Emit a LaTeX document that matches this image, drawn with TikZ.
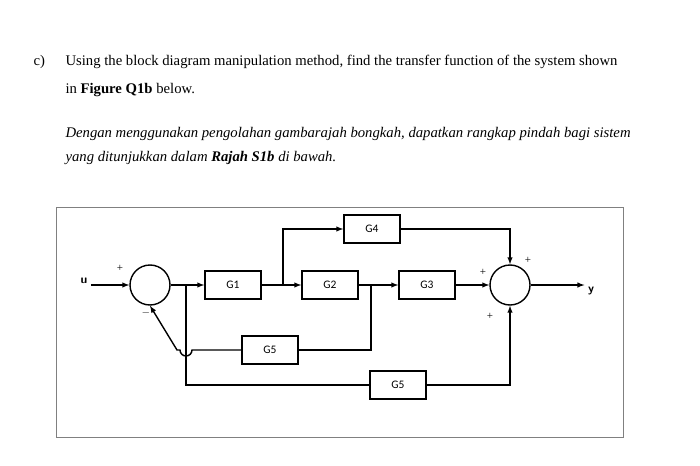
\documentclass[tikz,border=0pt]{standalone}
\usepackage{fontspec}
\setmainfont{Liberation Serif}
\newfontfamily\blockfont{Carlito}
\usetikzlibrary{positioning}

\begin{document}
\begin{tikzpicture}[x=1pt,y=-1pt,>=latex]
        % Setup the styles for the blocks
        \tikzset{block/.style={draw, line width=1.4pt, minimum width=56pt, minimum height=28pt,
                               inner sep=0pt, font=\blockfont\fontsize{11.5}{13}\selectfont},
                 junction/.style={draw, line width=1.4pt, circle, minimum size=40pt, inner sep=0pt},
                 sign/.style={font=\fontsize{11}{11}\selectfont, inner sep=0pt},
                 question/.style={anchor=base west, font=\fontsize{14.7}{16}\selectfont},
                 line/.style={line width=1.4pt}}
        \useasboundingbox (0,0) rectangle (700,465);

        % Question text
        \node[question] at (30,66) (qc) {c)};
        \node[question] at (62,66) (q1)
            {Using the block diagram manipulation method, find the transfer function of the system shown};
        \node[question] at (62,94) (q2) {in \textbf{Figure Q1b} below.};
        \node[question, font=\fontsize{14.7}{16}\selectfont\itshape] at (62,138) (q3)
            {Dengan menggunakan pengolahan gambarajah bongkah, dapatkan rangkap pindah bagi sistem};
        \node[question, font=\fontsize{14.7}{16}\selectfont\itshape] at (62,161) (q4)
            {yang ditunjukkan dalam \textbf{Rajah S1b} di bawah.};

        % Frame
        \draw[gray, line width=1pt] (56,207) rectangle (623,437);

        % Draw the blocks
        \node[junction] at (150,285) (sum1) {};
        \node[junction] at (510,285) (sum2) {};
        \node[block] at (233,285) (g1) {G1};
        \node[block] at (330,285) (g2) {G2};
        \node[block] at (427,285) (g3) {G3};
        \node[block] at (372,229) (g4) {G4};
        \node[block] at (270,350) (g5a) {G5};
        \node[block] at (398,385) (g5b) {G5};
        \node[font=\sffamily\bfseries\large] at (84,281) (u) {u};
        \node[font=\sffamily\bfseries\large] at (591,291) (y) {y};

        % Branch points
        \coordinate (b1) at (186,285);
        \coordinate (b2) at (283,285);
        \coordinate (b3) at (371,285);

        % Connect the blocks with arrows
        \draw[line,->] (u.east |- sum1) -- (sum1);
        \draw[line,->] (sum1) -- (g1);
        \draw[line,->] (g1) -- (g2);
        \draw[line,->] (g2) -- (g3);
        \draw[line,->] (g3) -- (sum2);
        \draw[line,->] (sum2) -- (y.west |- sum2);
        \draw[line,->] (b2) |- (g4);
        \draw[line,->] (g4) -| (sum2);
        \draw[line] (b3) |- (g5a);
        \draw[line,->] (g5a.west) -- (192,350) arc (0:180:6) -- (177,350) -- (sum1.south);
        \draw[line] (b1) -- (186,385) -- (g5b);
        \draw[line,->] (g5b) -| (sum2);

        % Signs
        \node[sign] at (120,268) {+};
        \node[sign] at (146,313) {$-$};
        \node[sign] at (528,260) {+};
        \node[sign] at (483,272) {+};
        \node[sign] at (490,316) {+};
\end{tikzpicture}
\end{document}
